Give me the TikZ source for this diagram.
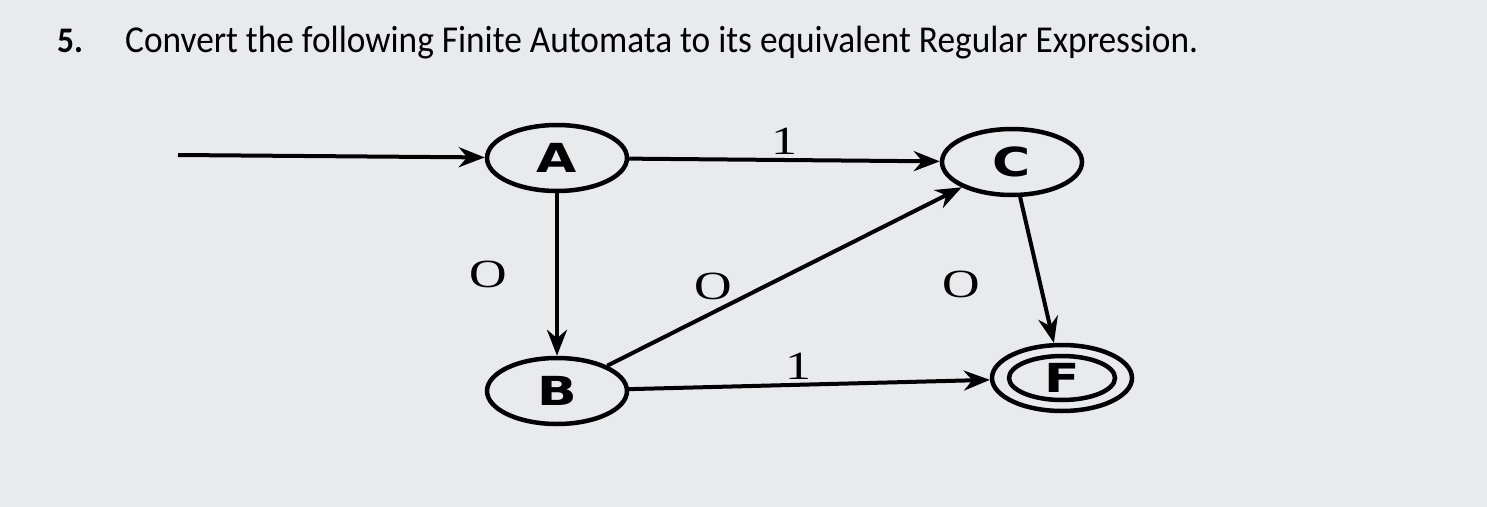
\documentclass[tikz,border=0pt]{standalone}
\usepackage{fontspec}
\setmainfont{Liberation Serif}
\newfontfamily\titlefont{Carlito}
\newfontfamily\statefont{DejaVu Sans}
\usetikzlibrary{arrows.meta,shapes}

\definecolor{paper}{RGB}{233,234,236}
\newcommand{\wide}[1]{\scalebox{1.3}[1]{#1}}

\begin{document}
\begin{tikzpicture}[
  state/.style={draw,ellipse,line width=4.5bp,minimum width=140bp,minimum height=66bp,inner sep=0pt,font=\statefont\bfseries\fontsize{40bp}{40bp}\selectfont},
  trans/.style={-{Stealth[length=26bp,width=20bp]},line width=4bp},
  lbl/.style={font=\fontsize{40bp}{40bp}\selectfont,inner sep=0pt}
]
\fill[paper] (0bp,0bp) rectangle (1487bp,-507bp);
\useasboundingbox (0bp,0bp) rectangle (1487bp,-507bp);

\node (num) at (57bp,-52bp)[anchor=base west,inner sep=0pt,font=\titlefont\bfseries\fontsize{36bp}{36bp}\selectfont] {\scalebox{0.93}[1]{5.}};
\node (title) at (125bp,-52bp)[anchor=base west,inner sep=0pt,font=\titlefont\fontsize{38bp}{38bp}\selectfont] {\scalebox{0.93}[1]{Convert the following Finite Automata to its equivalent Regular Expression.}};

\node (A) at (557bp,-158bp)[state] {\wide{A}};
\node (C) at (1012bp,-162bp)[state] {\wide{C}};
\node (B) at (557bp,-391bp)[state] {\wide{B}};
\node (F) at (1062bp,-378bp)[state] {};
\node (Fi) at (F)[state,minimum width=106bp,minimum height=44bp] {\wide{F}};
\coordinate (start) at (178bp,-155bp);

\draw [trans] (start) -- (A);
\draw [trans] (A) -- node[lbl,above=4bp] {\wide{1}} (C);
\draw [trans] (A) -- node[lbl,left=48bp] {\wide{O}} (B);
\draw [trans] (B) -- node[lbl,pos=0.3,above=10bp] {\wide{O}} (C);
\draw [trans] (B) -- node[lbl,pos=0.47,above=3bp] {\wide{1}} (F);
\draw [trans] (C) -- node[lbl,pos=0.6,left=58bp] {\wide{O}} (F);
\end{tikzpicture}
\end{document}
